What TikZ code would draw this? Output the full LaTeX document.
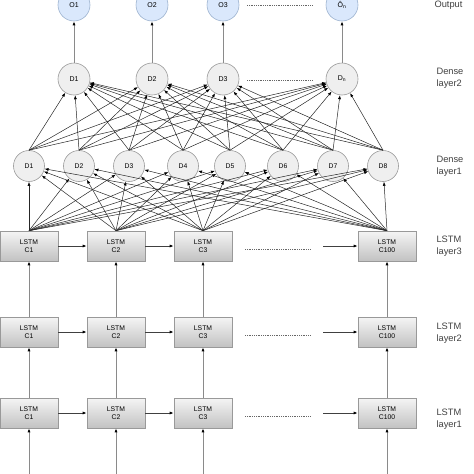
\documentclass[tikz,border=0pt]{standalone}
\usepackage{fontspec}
\setmainfont{Liberation Sans}
\usetikzlibrary{arrows.meta}
\definecolor{outfill}{HTML}{DAE8FC}
\definecolor{outdraw}{HTML}{9DB3CF}
\definecolor{dfill}{HTML}{EFEFEF}
\definecolor{ddraw}{HTML}{9A9A9A}
\definecolor{bdraw}{HTML}{999999}
\definecolor{vgray}{HTML}{8A8A8A}
\begin{document}
\begin{tikzpicture}[x=1pt,y=-1pt,
  tip/.tip={Latex[length=4pt,width=3pt,color=black]},
  outnode/.style={circle,draw=outdraw,fill=outfill,line width=0.6pt,minimum size=32pt,inner sep=0pt,font=\fontsize{7}{8}\selectfont},
  dnode/.style={circle,draw=ddraw,fill=dfill,line width=0.6pt,minimum size=32pt,inner sep=0pt,font=\fontsize{7}{8}\selectfont},
  dsmall/.style={dnode,minimum size=31pt,font=\fontsize{6.8}{7.5}\selectfont},
  lstm/.style={rectangle,draw=bdraw,top color=white!96!black,bottom color=black!24,line width=0.6pt,minimum width=58pt,minimum height=30pt,inner sep=0pt,align=center,font=\fontsize{6.8}{7.5}\selectfont},
  fan/.style={draw=black!85,line width=0.5pt,-tip},
  vert/.style={draw=vgray,line width=1pt,-tip},
  harr/.style={draw=black!75,line width=0.8pt,-tip},
  dots/.style={draw=black!60,line width=0.6pt,dash pattern=on 0.7pt off 1.1pt},
  lab/.style={anchor=west,align=left,font=\fontsize{9.3}{12}\selectfont,text=black!75}]
\useasboundingbox (0,0) rectangle (474,474);
\clip (0,0) rectangle (474,474);
% output nodes
\node[outnode] (o1) at (74,5) {O1};
\node[outnode] (o2) at (152,5) {O2};
\node[outnode] (o3) at (223,5) {O3};
\node[outnode] (on) at (342,5) {Ô\textsubscript{n}};
% dense layer2
\node[dnode] (e1) at (74,79) {D1};
\node[dnode] (e2) at (152,79) {D2};
\node[dnode] (e3) at (223,79) {D3};
\node[dnode] (en) at (342,79) {D\textsubscript{n}};
% dense layer1
\foreach \i/\x in {1/29,2/79,3/129,4/183,5/230,6/283,7/333,8/383}
  \node[dsmall] (d\i) at (\x,166) {D\i};
% LSTM layers
\foreach \r/\y in {3/246,2/332,1/413}{
  \node[lstm] (l\r a) at (29,\y) {LSTM\\C1};
  \node[lstm] (l\r b) at (116,\y) {LSTM\\C2};
  \node[lstm] (l\r c) at (203,\y) {LSTM\\C3};
  \node[lstm] (l\r d) at (387,\y) {LSTM\\C100};
  \coordinate (s\r) at (323,\y);
  \coordinate (p\r) at (245,\y+3);
  \coordinate (q\r) at (310,\y+3);
  \draw[harr] (l\r a) -- (l\r b);
  \draw[harr] (l\r b) -- (l\r c);
  \draw[harr] (s\r) -- (l\r d);
  \draw[dots] (p\r) -- (q\r);
}
% bottom inputs
\foreach \c/\x in {a/29,b/116,c/203,d/387}{
  \coordinate (in\c) at (\x,480);
  \draw[vert] (in\c) -- (l1\c.south);
  \draw[vert] (l1\c.north) -- (l2\c.south);
  \draw[vert] (l2\c.north) -- (l3\c.south);
}
% LSTM layer3 -> dense layer1
\foreach \c in {a,b,c,d}
  \foreach \i in {1,...,8}
    \draw[fan] (l3\c.north) -- (d\i);
% dense layer1 -> dense layer2
\foreach \i in {1,...,8}
  \foreach \j in {1,2,3,n}
    \draw[fan] (d\i.north) -- (e\j);
% dense layer2 -> output
\draw[vert] (e1) -- (o1);
\draw[vert] (e2) -- (o2);
\draw[vert] (e3) -- (o3);
\draw[vert] (en) -- (on);
% dotted gaps
\coordinate (g1) at (247,5); \coordinate (g2) at (312,5);
\coordinate (g3) at (247,80); \coordinate (g4) at (312,80);
\draw[dots] (g1) -- (g2);
\draw[dots] (g3) -- (g4);
% labels
\node[lab] (t1) at (431,5) {Output};
\node[lab] (t2) at (433,78) {Dense\\layer2};
\node[lab] (t3) at (433,166) {Dense\\layer1};
\node[lab] (t4) at (433,246) {LSTM\\layer3};
\node[lab] (t5) at (433,333) {LSTM\\layer2};
\node[lab] (t6) at (433,419) {LSTM\\layer1};
\end{tikzpicture}
\end{document}
